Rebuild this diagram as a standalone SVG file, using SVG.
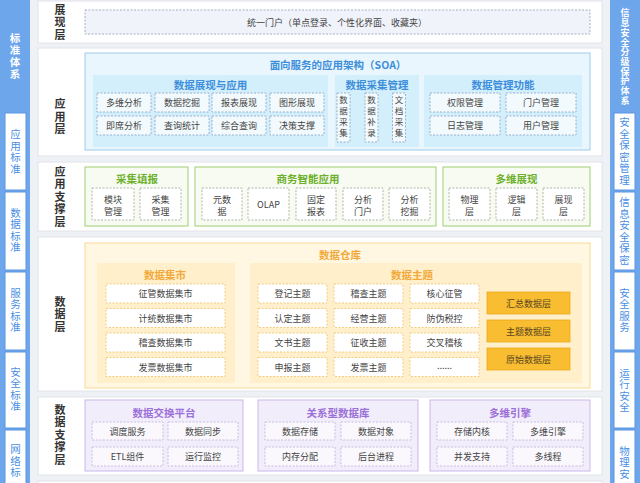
<svg xmlns="http://www.w3.org/2000/svg" width="640" height="483" viewBox="0 0 640 483">
<style>
text{font-family:"Noto Sans CJK SC","Noto Sans",sans-serif;text-anchor:middle;dominant-baseline:central}
.v{writing-mode:vertical-rl;text-orientation:upright}
.row{fill:#fff;stroke:#e1e4e9;stroke-width:1}
.lbl{font-size:11px;font-weight:bold;fill:#333;letter-spacing:1.5px}
.side{fill:#6ea6ec}
.sbox{fill:#fff;stroke:#5b95e0;stroke-width:1}
.stt{font-size:10.5px;font-weight:bold;fill:#fff;letter-spacing:1.5px}
.st{font-size:10.5px;fill:#4a8fe6;letter-spacing:1px}
.it{font-size:9px;fill:#444}
.soa{fill:#e9f6fd;stroke:#9fcbea;stroke-width:1}
.soasub{fill:#d3effb}
.soaT{font-size:10.5px;font-weight:bold;fill:#3d8edb}
.soaI{fill:#f3fafd;stroke:#8eaacb;stroke-width:0.9;stroke-dasharray:2 1.5}
.gp{fill:#f7fbf1;stroke:#9fce72;stroke-width:1}
.gT{font-size:10.5px;font-weight:bold;fill:#6cb02c}
.gI{fill:#fff;stroke:#a9ad9f;stroke-width:0.9;stroke-dasharray:2 1.5}
.yo{fill:#fff7e2;stroke:#f7da95;stroke-width:1}
.ys{fill:#fff0cb}
.yT{font-size:10.5px;font-weight:bold;fill:#f2a93a}
.yI{fill:#fff;stroke:#efc77a;stroke-width:0.9;stroke-dasharray:2 1.5}
.yb{fill:#f8bd30;stroke:#eaa91e;stroke-width:0.8}
.ybt{font-size:9px;fill:#5a4622}
.pp{fill:#f2edfb;stroke:#cbb8ec;stroke-width:1}
.pT{font-size:10.5px;font-weight:bold;fill:#9b70d8}
.pI{fill:#faf8fd;stroke:#c5b8dc;stroke-width:0.9;stroke-dasharray:2 1.5}
</style>
<rect x="0" y="0" width="640" height="483" fill="#eef1f5"/>

<!-- Left standards strip -->
<g id="standards">
<rect class="side" x="0" y="0" width="30" height="483"/>
<text class="stt v" x="15" y="57">标准体系</text>
<g id="std-app"><rect class="sbox" x="5" y="113" width="21" height="77"/>
<text class="st v" x="15.5" y="152">应用标准</text></g>
<g id="std-data"><rect class="sbox" x="5" y="192" width="21" height="78"/>
<text class="st v" x="15.5" y="230.5">数据标准</text></g>
<g id="std-svc"><rect class="sbox" x="5" y="272" width="21" height="78"/>
<text class="st v" x="15.5" y="310.5">服务标准</text></g>
<g id="std-sec"><rect class="sbox" x="5" y="352" width="21" height="76"/>
<text class="st v" x="15.5" y="389.5">安全标准</text></g>
<g id="std-net"><rect class="sbox" x="5" y="430" width="21" height="70"/>
<text class="st v" x="15.5" y="461.5">网络标</text></g>
</g>

<!-- Right security strip -->
<g id="security">
<rect class="side" x="610" y="0" width="30" height="483"/>
<text class="stt v" x="625" y="57" style="font-size:9px;letter-spacing:0.7px">信息安全分级保护体系</text>
<g id="sec-mgmt"><rect class="sbox" x="614" y="113" width="21" height="77"/>
<text class="st v" x="624.5" y="151.5">安全保密管理</text></g>
<g id="sec-info"><rect class="sbox" x="614" y="192" width="21" height="78"/>
<text class="st v" x="624.5" y="231.5">信息安全保密</text></g>
<g id="sec-svc"><rect class="sbox" x="614" y="272" width="21" height="78"/>
<text class="st v" x="624.5" y="310.5">安全服务</text></g>
<g id="sec-run"><rect class="sbox" x="614" y="352" width="21" height="76"/>
<text class="st v" x="624.5" y="390.5">运行安全</text></g>
<g id="sec-phys"><rect class="sbox" x="614" y="430" width="21" height="70"/>
<text class="st v" x="624.5" y="463">物理安</text></g>
</g>

<!-- Row 1: presentation layer -->
<g id="row-present">
<rect class="row" x="38" y="1" width="564" height="42"/>
<text class="lbl v" x="60" y="23">展现层</text>
<rect x="85" y="10" width="505" height="24" fill="#f1f3fa" stroke="#9ea8bd" stroke-width="0.9" stroke-dasharray="2 1.5"/>
<text class="it" x="337" y="22">统一门户（单点登录、个性化界面、收藏夹）</text>
</g>

<!-- Row 2: application layer -->
<g id="row-app">
<rect class="row" x="38" y="48" width="564" height="108"/>
<text class="lbl v" x="60" y="117.5">应用层</text>
<rect class="soa" x="85" y="53" width="505" height="97"/>
<text class="soaT" x="338" y="64">面向服务的应用架构（SOA）</text>
<g id="soa-present">
<rect class="soasub" x="93" y="75" width="235" height="72"/>
<text class="soaT" x="210.5" y="84">数据展现与应用</text>
<rect class="soaI" x="97" y="93" width="54" height="19"/><text class="it" x="124" y="102.5">多维分析</text>
<rect class="soaI" x="155" y="93" width="54" height="19"/><text class="it" x="182" y="102.5">数据挖掘</text>
<rect class="soaI" x="212" y="93" width="54" height="19"/><text class="it" x="239" y="102.5">报表展现</text>
<rect class="soaI" x="270" y="93" width="54" height="19"/><text class="it" x="297" y="102.5">图形展现</text>
<rect class="soaI" x="97" y="116" width="54" height="19"/><text class="it" x="124" y="125.5">即席分析</text>
<rect class="soaI" x="155" y="116" width="54" height="19"/><text class="it" x="182" y="125.5">查询统计</text>
<rect class="soaI" x="212" y="116" width="54" height="19"/><text class="it" x="239" y="125.5">综合查询</text>
<rect class="soaI" x="270" y="116" width="54" height="19"/><text class="it" x="297" y="125.5">决策支撑</text>
</g>
<g id="soa-collect">
<rect class="soasub" x="335" y="75" width="84" height="72"/>
<text class="soaT" x="377" y="84">数据采集管理</text>
<rect class="soaI" x="337" y="93" width="13" height="49"/>
<text class="it v" x="343.5" y="118" style="font-size:8.5px;letter-spacing:2.5px">数据采集</text>
<rect class="soaI" x="365" y="93" width="13" height="49"/>
<text class="it v" x="371.5" y="118" style="font-size:8.5px;letter-spacing:2.5px">数据补录</text>
<rect class="soaI" x="392.5" y="93" width="13" height="49"/>
<text class="it v" x="399" y="118" style="font-size:8.5px;letter-spacing:2.5px">文档采集</text>
</g>
<g id="soa-manage">
<rect class="soasub" x="424" y="75" width="158" height="72"/>
<text class="soaT" x="503" y="84">数据管理功能</text>
<rect class="soaI" x="430" y="93" width="70" height="19"/><text class="it" x="465" y="102.5">权限管理</text>
<rect class="soaI" x="506" y="93" width="70" height="19"/><text class="it" x="541" y="102.5">门户管理</text>
<rect class="soaI" x="430" y="116" width="70" height="19"/><text class="it" x="465" y="125.5">日志管理</text>
<rect class="soaI" x="506" y="116" width="70" height="19"/><text class="it" x="541" y="125.5">用户管理</text>
</g>
</g>

<!-- Row 3: application support layer -->
<g id="row-appsupport">
<rect class="row" x="38" y="162" width="564" height="69"/>
<text class="lbl v" x="60" y="197.5">应用支撑层</text>
<g id="collect-fill">
<rect class="gp" x="85" y="167" width="103" height="59"/>
<text class="gT" x="137" y="178">采集填报</text>
<rect class="gI" x="92" y="188" width="42" height="32"/><text class="it"><tspan x="113" y="198.5">模块</tspan><tspan x="113" y="210.5">管理</tspan></text>
<rect class="gI" x="140" y="188" width="41" height="32"/><text class="it"><tspan x="160.5" y="198.5">采集</tspan><tspan x="160.5" y="210.5">管理</tspan></text>
</g>
<g id="bi-app">
<rect class="gp" x="195" y="167" width="241" height="59"/>
<text class="gT" x="308" y="178">商务智能应用</text>
<rect class="gI" x="202" y="188" width="40" height="32"/><text class="it"><tspan x="222" y="198.5">元数</tspan><tspan x="222" y="210.5">据</tspan></text>
<rect class="gI" x="248" y="188" width="41" height="32"/><text class="it" x="268.5" y="204.5">OLAP</text>
<rect class="gI" x="296" y="188" width="40" height="32"/><text class="it"><tspan x="316" y="198.5">固定</tspan><tspan x="316" y="210.5">报表</tspan></text>
<rect class="gI" x="343" y="188" width="40" height="32"/><text class="it"><tspan x="363" y="198.5">分析</tspan><tspan x="363" y="210.5">门户</tspan></text>
<rect class="gI" x="389" y="188" width="41" height="32"/><text class="it"><tspan x="409.5" y="198.5">分析</tspan><tspan x="409.5" y="210.5">挖掘</tspan></text>
</g>
<g id="multidim-show">
<rect class="gp" x="443" y="167" width="147" height="59"/>
<text class="gT" x="516.5" y="178">多维展现</text>
<rect class="gI" x="449" y="188" width="41" height="32"/><text class="it"><tspan x="469.5" y="198.5">物理</tspan><tspan x="469.5" y="210.5">层</tspan></text>
<rect class="gI" x="496" y="188" width="41" height="32"/><text class="it"><tspan x="516.5" y="198.5">逻辑</tspan><tspan x="516.5" y="210.5">层</tspan></text>
<rect class="gI" x="543" y="188" width="41" height="32"/><text class="it"><tspan x="563.5" y="198.5">展现</tspan><tspan x="563.5" y="210.5">层</tspan></text>
</g>
</g>

<!-- Row 4: data layer -->
<g id="row-data">
<rect class="row" x="38" y="237" width="564" height="154"/>
<text class="lbl v" x="60" y="315">数据层</text>
<rect class="yo" x="85" y="243" width="505" height="145"/>
<text class="yT" x="340" y="254">数据仓库</text>
<g id="data-mart">
<rect class="ys" x="97" y="263" width="138" height="120"/>
<text class="yT" x="165" y="274">数据集市</text>
<rect class="yI" x="106" y="284" width="119" height="19"/><text class="it" x="165.5" y="293.5">征管数据集市</text>
<rect class="yI" x="106" y="308.5" width="119" height="19"/><text class="it" x="165.5" y="318">计统数据集市</text>
<rect class="yI" x="106" y="333" width="119" height="19"/><text class="it" x="165.5" y="342.5">稽查数据集市</text>
<rect class="yI" x="106" y="357.5" width="119" height="19"/><text class="it" x="165.5" y="367">发票数据集市</text>
</g>
<g id="data-subject">
<rect class="ys" x="250" y="263" width="332" height="120"/>
<text class="yT" x="412" y="274">数据主题</text>
<rect class="yI" x="258" y="284" width="69" height="19"/><text class="it" x="292.5" y="293.5">登记主题</text>
<rect class="yI" x="334" y="284" width="69" height="19"/><text class="it" x="368.5" y="293.5">稽查主题</text>
<rect class="yI" x="410" y="284" width="69" height="19"/><text class="it" x="444.5" y="293.5">核心征管</text>
<rect class="yI" x="258" y="308.5" width="69" height="19"/><text class="it" x="292.5" y="318">认定主题</text>
<rect class="yI" x="334" y="308.5" width="69" height="19"/><text class="it" x="368.5" y="318">经营主题</text>
<rect class="yI" x="410" y="308.5" width="69" height="19"/><text class="it" x="444.5" y="318">防伪税控</text>
<rect class="yI" x="258" y="333" width="69" height="19"/><text class="it" x="292.5" y="342.5">文书主题</text>
<rect class="yI" x="334" y="333" width="69" height="19"/><text class="it" x="368.5" y="342.5">征收主题</text>
<rect class="yI" x="410" y="333" width="69" height="19"/><text class="it" x="444.5" y="342.5">交叉稽核</text>
<rect class="yI" x="258" y="357.5" width="69" height="19"/><text class="it" x="292.5" y="367">申报主题</text>
<rect class="yI" x="334" y="357.5" width="69" height="19"/><text class="it" x="368.5" y="367">发票主题</text>
<rect class="yI" x="410" y="357.5" width="69" height="19"/><text class="it" x="444.5" y="365">......</text>
</g>
<g id="data-levels">
<rect class="yb" x="487" y="292" width="83" height="22"/><text class="ybt" x="528.5" y="303">汇总数据层</text>
<rect class="yb" x="487" y="320" width="83" height="22"/><text class="ybt" x="528.5" y="331">主题数据层</text>
<rect class="yb" x="487" y="348" width="83" height="22"/><text class="ybt" x="528.5" y="359">原始数据层</text>
</g>
</g>

<!-- Row 5: data support layer -->
<g id="row-datasupport">
<rect class="row" x="38" y="397" width="564" height="78"/>
<text class="lbl v" x="60" y="435.5">数据支撑层</text>
<g id="exchange">
<rect class="pp" x="85" y="400" width="158" height="71"/>
<text class="pT" x="164" y="412">数据交换平台</text>
<rect class="pI" x="92" y="422" width="71" height="18"/><text class="it" x="127.5" y="431">调度服务</text>
<rect class="pI" x="168" y="422" width="70" height="18"/><text class="it" x="203" y="431">数据同步</text>
<rect class="pI" x="92" y="447" width="71" height="19"/><text class="it" x="127.5" y="456.5">ETL组件</text>
<rect class="pI" x="168" y="447" width="70" height="19"/><text class="it" x="203" y="456.5">运行监控</text>
</g>
<g id="rdb">
<rect class="pp" x="258" y="400" width="160" height="71"/>
<text class="pT" x="338" y="412">关系型数据库</text>
<rect class="pI" x="265" y="422" width="70" height="18"/><text class="it" x="300" y="431">数据存储</text>
<rect class="pI" x="341" y="422" width="70" height="18"/><text class="it" x="376" y="431">数据对象</text>
<rect class="pI" x="265" y="447" width="70" height="19"/><text class="it" x="300" y="456.5">内存分配</text>
<rect class="pI" x="341" y="447" width="70" height="19"/><text class="it" x="376" y="456.5">后台进程</text>
</g>
<g id="olap-engine">
<rect class="pp" x="430" y="400" width="160" height="71"/>
<text class="pT" x="510" y="412">多维引擎</text>
<rect class="pI" x="437" y="422" width="70" height="18"/><text class="it" x="472" y="431">存储内核</text>
<rect class="pI" x="513" y="422" width="70" height="18"/><text class="it" x="548" y="431">多维引擎</text>
<rect class="pI" x="437" y="447" width="70" height="19"/><text class="it" x="472" y="456.5">并发支持</text>
<rect class="pI" x="513" y="447" width="70" height="19"/><text class="it" x="548" y="456.5">多线程</text>
</g>
</g>

<!-- Row 6 (cut off) -->
<g id="row-next">
<rect class="row" x="38" y="481" width="564" height="10"/>
</g>
<g id="connectors"/>
</svg>
